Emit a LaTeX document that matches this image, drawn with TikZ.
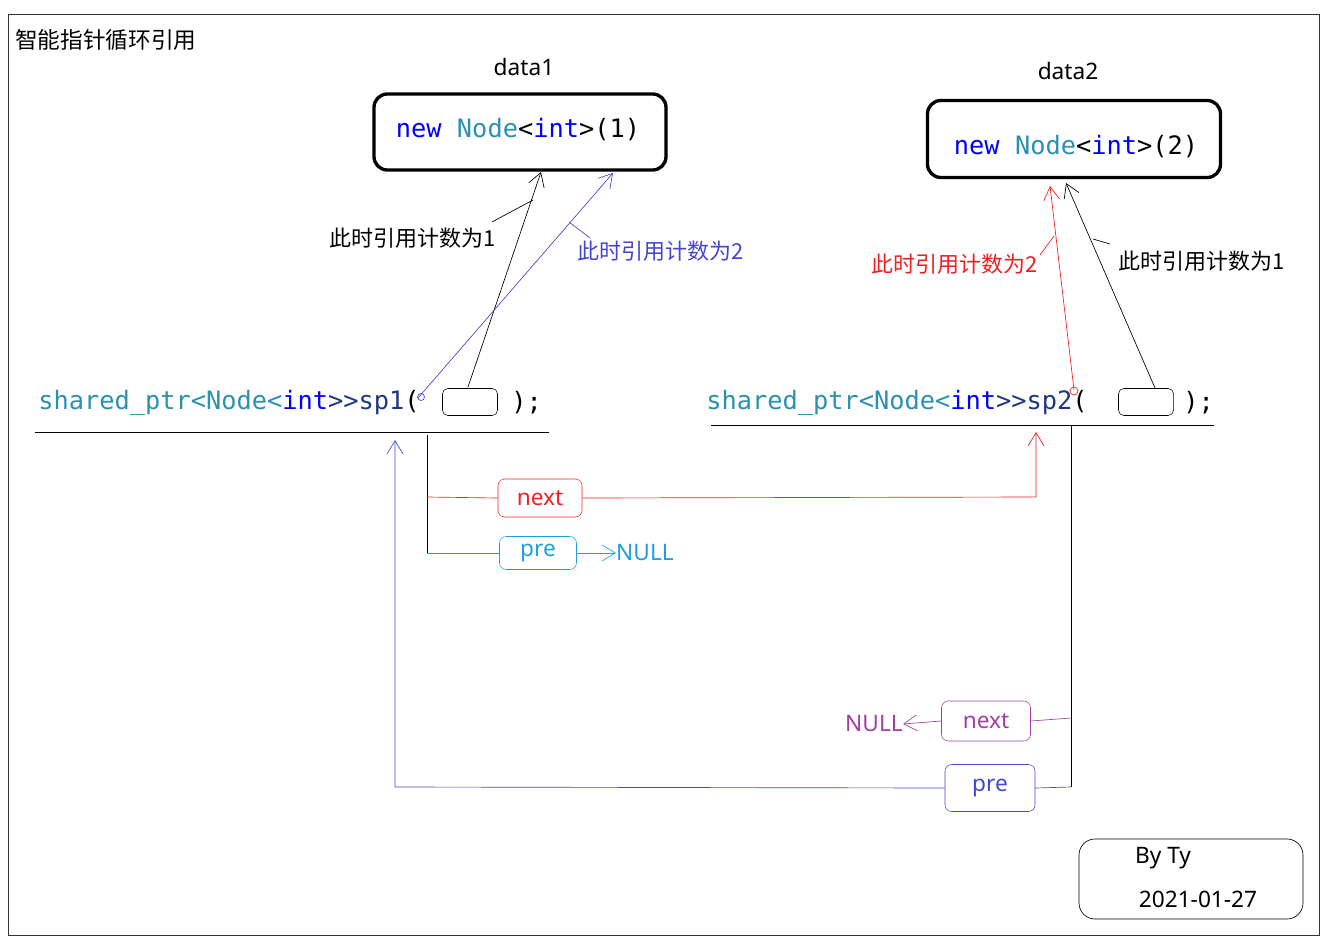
\documentclass[tikz,border=0pt]{standalone}
\usepackage{fontspec}
\setmainfont{Noto Sans}
\setmonofont{DejaVu Sans Mono}
\newfontfamily\cjk{Noto Sans CJK SC}
\usetikzlibrary{arrows.meta}
\definecolor{tealc}{HTML}{2B91AF}
\definecolor{kw}{HTML}{0000FF}
\definecolor{var}{HTML}{1F377F}
\definecolor{redc}{HTML}{EE2020}
\definecolor{bluec}{HTML}{4545D0}
\definecolor{cyanc}{HTML}{1E9FE0}
\definecolor{purc}{HTML}{A040A0}
\begin{document}
\begin{tikzpicture}[x=0.75pt,y=-0.75pt,
  code/.style={font=\ttfamily\fontsize{19}{22}\selectfont,inner sep=0},
  big/.style={draw,line width=2.5pt,rounded corners=10pt},
  slot/.style={draw,rounded corners=4pt},
  lbl/.style={font=\cjk\fontsize{16.5}{20}\selectfont,inner sep=0},
  tag/.style={draw,rounded corners=5pt,font=\fontsize{17}{20}\selectfont},
  arr/.style={-{Straight Barb[length=10pt,width=12pt]},line width=0.5pt},
  thin/.style={line width=0.5pt}]
\useasboundingbox (0,0) rectangle (1327,949);
\node[draw=black!80,thin,minimum width=1311*0.75pt,minimum height=921*0.75pt,anchor=north west,inner sep=0] (frame) at (8,14) {};
\node[lbl,anchor=west,font=\cjk\fontsize{17}{20}\selectfont] (title) at (15,40) {智能指针循环引用};
% boxes
\node[big,minimum width=292*0.75pt,minimum height=76*0.75pt] (b1) at (520,132) {};
\node[code] (t1) at (518,130) {\color{kw}new \color{tealc}Node\color{black}<\color{kw}int\color{black}>(1)};
\node[font=\fontsize{17}{20}\selectfont] (d1) at (524,67) {data1};
\node[big,minimum width=293*0.75pt,minimum height=77*0.75pt] (b2) at (1074,139) {};
\node[code] (t2) at (1076,147) {\color{kw}new \color{tealc}Node\color{black}<\color{kw}int\color{black}>(2)};
\node[font=\fontsize{17}{20}\selectfont] (d2) at (1068,71) {data2};
% code lines
\node[code,anchor=west] (c1) at (38,403) {\color{tealc}shared\_ptr<Node<\color{kw}int\color{var}>>sp1\color{black}(};
\node[slot,minimum width=55*0.75pt,minimum height=27*0.75pt,inner sep=0] (s1) at (470,402) {};
\node[code,anchor=west] (e1) at (511,403) {);};
\node[code,anchor=west] (c2) at (706,403) {\color{tealc}shared\_ptr<Node<\color{kw}int\color{var}>>sp2\color{black}(};
\node[slot,minimum width=55*0.75pt,minimum height=27*0.75pt,inner sep=0] (s2) at (1146,402) {};
\node[code,anchor=west] (e2) at (1183,403) {);};
\coordinate (u1a) at (35,432); \coordinate (u1b) at (549,432);
\coordinate (u2a) at (711,425); \coordinate (u2b) at (1214,425);
\draw[thin] (u1a) -- (u1b); \draw[thin] (u2a) -- (u2b);
% reference arrows
\coordinate (a1s) at (468,387); \coordinate (a1e) at (541,172);
\draw[arr] (a1s) -- (a1e);
\coordinate (l1a) at (533,200); \coordinate (l1b) at (492,222);
\draw[thin] (l1a) -- (l1b);
\node[lbl] (L1) at (413,238) {此时引用计数为1};
\coordinate (a2s) at (418,398); \coordinate (a2e) at (613,173);
\draw[arr,bluec] (a2s) -- (a2e);
\draw[bluec,thin] (421,397) circle (3.5);
\coordinate (l2a) at (569,222); \coordinate (l2b) at (590,238);
\draw[bluec,thin] (l2a) -- (l2b);
\node[lbl,bluec] (L2) at (661,251) {此时引用计数为2};
\coordinate (a3s) at (1074,390); \coordinate (a3e) at (1050,186);
\draw[arr,redc] (a3s) -- (a3e);
\draw[redc,thin] (1074,391) circle (4);
\coordinate (l3a) at (1054,236); \coordinate (l3b) at (1040,255);
\draw[redc,thin] (l3a) -- (l3b);
\node[lbl,redc] (L3) at (955,264) {此时引用计数为2};
\coordinate (a4s) at (1155,388); \coordinate (a4e) at (1066,183);
\draw[arr] (a4s) -- (a4e);
\coordinate (l4a) at (1093,239); \coordinate (l4b) at (1110,244);
\draw[thin] (l4a) -- (l4b);
\node[lbl] (L4) at (1202,261) {此时引用计数为1};
% sp1 members
\coordinate (v1t) at (427,435); \coordinate (v1b) at (427,554);
\draw[thin] (v1t) -- (v1b);
\node[tag,redc,minimum width=84*0.75pt,minimum height=38*0.75pt,inner sep=0] (n1) at (540,498) {next};
\coordinate (r1) at (1036,497); \coordinate (r2) at (1036,432);
\draw[redc,thin] (427,497) -- (n1.west);
\draw[arr,redc] (n1.east) -- (r1) -- (r2);
\node[tag,cyanc,minimum width=77*0.75pt,minimum height=33*0.75pt,inner sep=0] (p1) at (538,553) {pre};
\draw[cyanc,thin] (427,553) -- (p1.west);
\node[font=\fontsize{17}{20}\selectfont,cyanc,inner sep=0] (null1) at (645,553) {NULL};
\draw[arr,cyanc] (p1.east) -- (null1.west);
% sp2 members
\coordinate (v2t) at (1071,425); \coordinate (v2b) at (1071,787);
\draw[thin] (v2t) -- (v2b);
\node[tag,purc,minimum width=89*0.75pt,minimum height=40*0.75pt,inner sep=0] (n2) at (986,721) {next};
\draw[purc,thin] (1071,718) -- (n2.east);
\node[font=\fontsize{17}{20}\selectfont,purc,inner sep=0] (null2) at (874,724) {NULL};
\draw[arr,purc] (n2.west) -- (null2.east);
\node[tag,bluec,minimum width=90*0.75pt,minimum height=47*0.75pt,inner sep=0] (p2) at (990,788) {pre};
\coordinate (q1) at (395,787); \coordinate (q2) at (395,440);
\draw[bluec,thin] (1071,787) -- (p2.east);
\draw[arr,bluec] (p2.west) -- (q1) -- (q2);
% signature
\node[draw,thin,rounded corners=12pt,minimum width=224*0.75pt,minimum height=80*0.75pt] (sig) at (1191,879) {};
\node[font=\fontsize{17}{20}\selectfont] (by) at (1163,858) {By Ty};
\node[font=\fontsize{17}{20}\selectfont] (date) at (1198,899) {2021-01-27};
\end{tikzpicture}
\end{document}
